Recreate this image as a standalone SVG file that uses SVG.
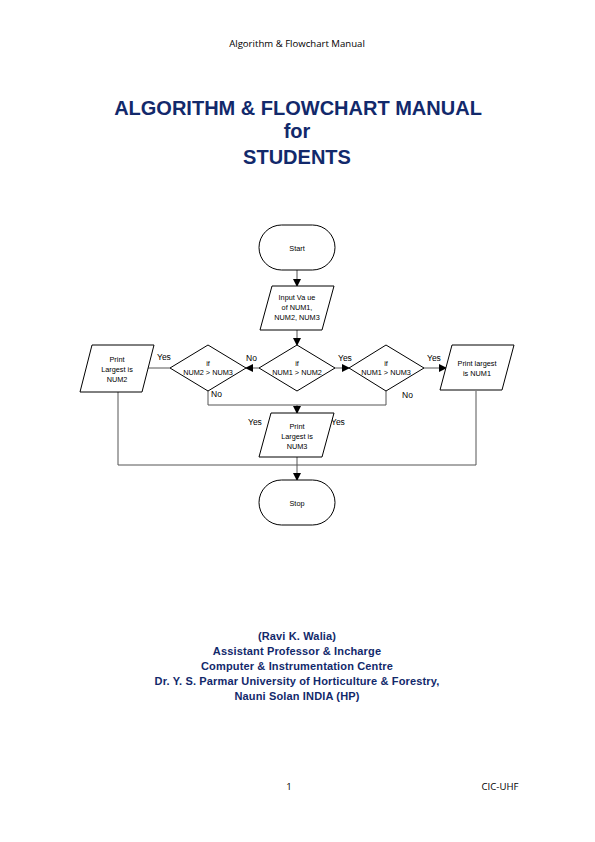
<svg xmlns="http://www.w3.org/2000/svg" width="595" height="842" viewBox="0 0 595 842">
<style>
.hdr{font-family:"Open Sans","Liberation Sans",sans-serif;font-size:9.6px;fill:#000}
.ttl{font-family:"Liberation Sans",Arial,sans-serif;font-size:20px;font-weight:bold;fill:#12296B;text-anchor:middle}
.auth{font-family:"Liberation Sans",Arial,sans-serif;font-size:11px;font-weight:bold;fill:#12296B;text-anchor:middle;letter-spacing:0.15px}
.shape{fill:#fff;stroke:#000;stroke-width:1}
.t{font-family:"Liberation Sans",Arial,sans-serif;font-size:7.3px;fill:#000;text-anchor:middle}
.lbl{font-family:"Liberation Sans",Arial,sans-serif;font-size:8.5px;fill:#000}
.conn{fill:none;stroke:#555;stroke-width:1}
</style>
<defs>
<marker id="arr" markerWidth="8" markerHeight="8" refX="7" refY="4" orient="auto" markerUnits="userSpaceOnUse">
<path d="M0,0 L8,4 L0,8 z" fill="#000"/>
</marker>
</defs>
<rect width="595" height="842" fill="#fff"/>
<text class="hdr" x="297" y="47" text-anchor="middle">Algorithm &amp; Flowchart Manual</text>
<text class="ttl" x="298" y="115">ALGORITHM &amp; FLOWCHART MANUAL</text>
<text class="ttl" x="297" y="138">for</text>
<text class="ttl" x="297" y="164">STUDENTS</text>

<g id="connectors">
<line class="conn" x1="297" y1="270" x2="297" y2="286" marker-end="url(#arr)"/>
<line class="conn" x1="297" y1="330" x2="297" y2="345" marker-end="url(#arr)"/>
<line class="conn" x1="335" y1="368" x2="349" y2="368" marker-end="url(#arr)"/>
<line class="conn" x1="424" y1="368" x2="446" y2="368" marker-end="url(#arr)"/>
<line class="conn" x1="259" y1="368" x2="246" y2="368" marker-end="url(#arr)"/>
<line class="conn" x1="170" y1="368" x2="120" y2="368" marker-end="url(#arr)"/>
<polyline class="conn" points="208,391 208,405 386,405 386,391"/>
<line class="conn" x1="297" y1="405" x2="297" y2="413" marker-end="url(#arr)"/>
<polyline class="conn" points="118,392 118,465 476,465 476,391"/>
<line class="conn" x1="297" y1="457" x2="297" y2="480" marker-end="url(#arr)"/>
<text class="lbl" x="338" y="361">Yes</text>
<text class="lbl" x="427" y="361">Yes</text>
<text class="lbl" x="246" y="361">No</text>
<text class="lbl" x="157" y="360">Yes</text>
<text class="lbl" x="211" y="397">No</text>
<text class="lbl" x="402" y="398">No</text>
<text class="lbl" x="248" y="425">Yes</text>
<text class="lbl" x="331" y="425">Yes</text>
</g>

<g id="start">
<rect class="shape" x="259" y="225" width="76" height="45" rx="22.5" ry="22.5"/>
<text class="t" x="297" y="250.5">Start</text>
</g>
<g id="input">
<polygon class="shape" points="272,286 334,286 322,330 260,330"/>
<text class="t" x="297" y="300">Input Va ue</text>
<text class="t" x="297" y="310">of NUM1,</text>
<text class="t" x="297" y="320">NUM2, NUM3</text>
</g>
<g id="dec1">
<polygon class="shape" points="297,345 335,368 297,391 259,368"/>
<text class="t" x="297" y="366">if</text>
<text class="t" x="297" y="375">NUM1 &gt; NUM2</text>
</g>
<g id="dec2">
<polygon class="shape" points="386,345 424,368 386,391 349,368"/>
<text class="t" x="386" y="366">if</text>
<text class="t" x="386" y="375">NUM1 &gt; NUM3</text>
</g>
<g id="dec3">
<polygon class="shape" points="208,345 246,368 208,391 170,368"/>
<text class="t" x="208" y="366">if</text>
<text class="t" x="208" y="375">NUM2 &gt; NUM3</text>
</g>
<g id="print1">
<polygon class="shape" points="452,345 514,345 502,390 440,390"/>
<text class="t" x="477" y="366">Print largest</text>
<text class="t" x="477" y="376">is NUM1</text>
</g>
<g id="print2">
<polygon class="shape" points="92,345 154,345 142,392 80,392"/>
<text class="t" x="117" y="362">Print</text>
<text class="t" x="117" y="372">Largest is</text>
<text class="t" x="117" y="382">NUM2</text>
</g>
<g id="print3">
<polygon class="shape" points="271,413 334,413 322,457 259,457"/>
<text class="t" x="297" y="429">Print</text>
<text class="t" x="297" y="439">Largest is</text>
<text class="t" x="297" y="449">NUM3</text>
</g>
<g id="stop">
<rect class="shape" x="259" y="480" width="76" height="45" rx="22.5" ry="22.5"/>
<text class="t" x="297" y="505.5">Stop</text>
</g>

<text class="auth" x="297" y="640">(Ravi K. Walia)</text>
<text class="auth" x="297" y="655">Assistant Professor &amp; Incharge</text>
<text class="auth" x="297" y="670">Computer &amp; Instrumentation Centre</text>
<text class="auth" x="297" y="685">Dr. Y. S. Parmar University of Horticulture &amp; Forestry,</text>
<text class="auth" x="297" y="700">Nauni Solan INDIA (HP)</text>

<text class="hdr" x="289" y="790" text-anchor="middle">1</text>
<text class="hdr" x="500" y="790" text-anchor="middle">CIC-UHF</text>
</svg>
